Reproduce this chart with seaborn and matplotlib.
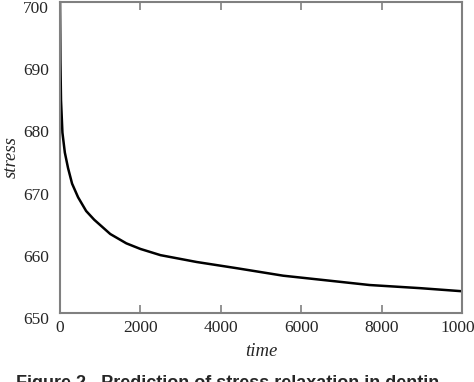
import numpy as np
import pandas as pd
import matplotlib
matplotlib.use("Agg")
import matplotlib.pyplot as plt
import matplotlib.transforms as mtransforms
import seaborn as sns

# Values
time = [0, 10, 25, 60, 120, 200, 300, 450, 650, 850, 1250, 1650, 2000,
        2500, 3400, 4400, 5550, 6700, 7700, 8950, 10000]
stress = [700.5, 690.5, 684.2, 679.0, 675.8, 673.3, 670.8, 668.6, 666.4,
          665.0, 662.7, 661.2, 660.3, 659.3, 658.2, 657.2, 656.0, 655.2,
          654.5, 654.0, 653.5]
xticks = [0, 2000, 4000, 6000, 8000, 10000]
yticks = [650, 660, 670, 680, 690, 700]

data = pd.DataFrame({"time": time, "stress": stress})

sns.set_style("white")
plt.rcParams["font.family"] = ["Liberation Serif", "DejaVu Serif"]

fig = plt.figure(figsize=(4.74, 3.82), dpi=100)
ax = fig.add_axes([0.1266, 0.1806, 0.8481, 0.8142])

sns.lineplot(data=data, x="time", y="stress", ax=ax, color="black", linewidth=1.8)

ax.set_xlim(0, 10000)
ax.set_ylim(650, 700)
ax.set_xticks(xticks)
ax.set_yticks(yticks)
ax.tick_params(axis="x", which="both", direction="in", length=6, width=1.2,
               color="#808080", top=True, bottom=True, labelsize=12.5, pad=5)
ax.tick_params(axis="y", length=0, labelsize=12.5, pad=8)
for s in ax.spines.values():
    s.set_color("#808080")
    s.set_linewidth(1.5)

# y labels sit a little below their ticks in the reference
shift = mtransforms.ScaledTranslation(0, -5 / 100, fig.dpi_scale_trans)
for lab in ax.get_yticklabels():
    lab.set_transform(lab.get_transform() + shift)

ax.set_xlabel("time", fontstyle="italic", fontsize=13.5, labelpad=5)
ax.set_ylabel("stress", fontstyle="italic", fontsize=13.5, labelpad=2)

# caption, cut off at the bottom edge as in the reference
fig.text(0.034, 1 - 375 / 382, "Figure 2.  Prediction of stress relaxation in dentin",
         ha="left", va="top", fontsize=13, fontweight="bold",
         family=["Liberation Sans", "DejaVu Sans"])

fig.savefig("out.png", dpi=100)
